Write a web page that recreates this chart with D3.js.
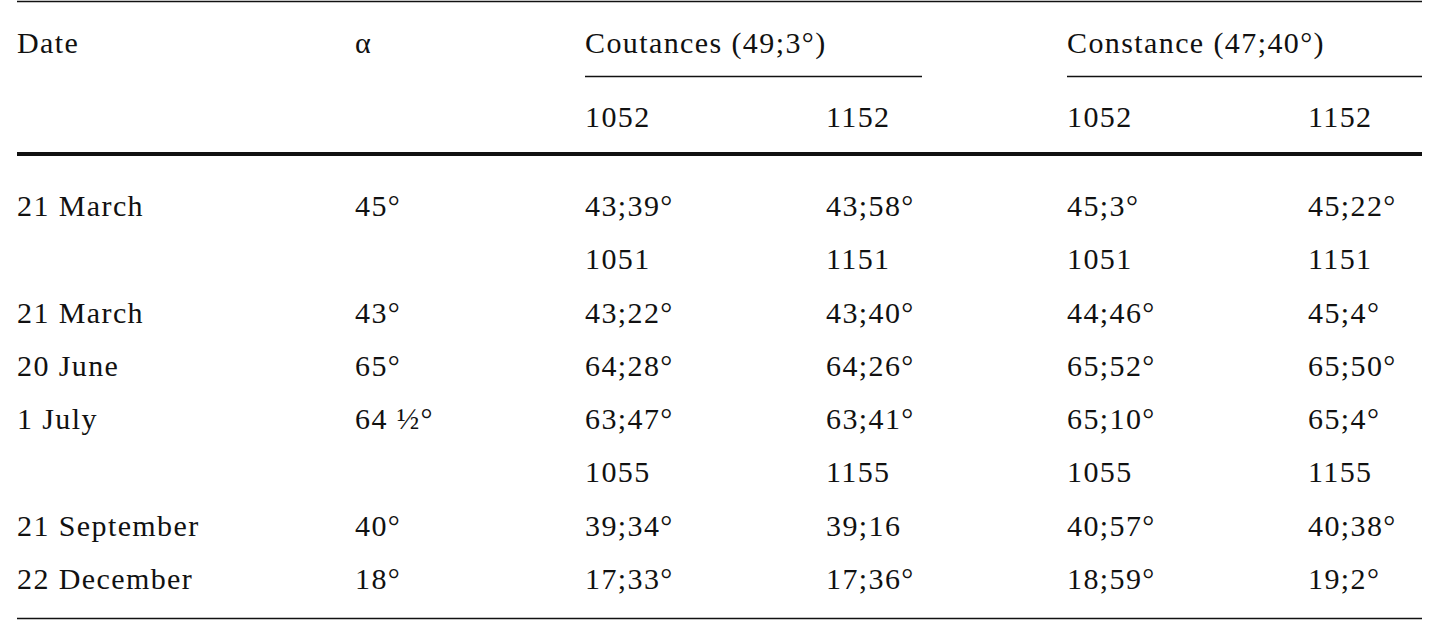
<!DOCTYPE html>
<html>
<head>
<meta charset="utf-8">
<script src="https://cdn.jsdelivr.net/npm/d3@7"></script>
<style>
  body { margin: 0; background: #fff; }
  text { font-family: "Liberation Serif", "DejaVu Serif", serif; font-size: 30px; letter-spacing: 1.4px; fill: #111; }
</style>
</head>
<body>
<svg id="chart" width="1430" height="621"></svg>
<script>
// column headings
var columns = ['date', 'alpha', 'cou1', 'cou2', 'con1', 'con2']
var headTop = ['Date', 'α', 'Coutances (49;3°)', '', 'Constance (47;40°)', '']
var headSub = ['', '', '1052', '1152', '1052', '1152']

// table body, one array per column
var dates = ['21 March', '', '21 March', '20 June', '1 July', '', '21 September', '22 December']
var alphas = ['45°', '', '43°', '65°', '64 ½°', '', '40°', '18°']
var coutancesA = ['43;39°', '1051', '43;22°', '64;28°', '63;47°', '1055', '39;34°', '17;33°']
var coutancesB = ['43;58°', '1151', '43;40°', '64;26°', '63;41°', '1155', '39;16', '17;36°']
var constanceA = ['45;3°', '1051', '44;46°', '65;52°', '65;10°', '1055', '40;57°', '18;59°']
var constanceB = ['45;22°', '1151', '45;4°', '65;50°', '65;4°', '1155', '40;38°', '19;2°']

var body = [dates, alphas, coutancesA, coutancesB, constanceA, constanceB]

var svg = d3.select('#chart')
var left = 17, right = 1422

var x = d3.scaleOrdinal().domain(columns).range([17, 355, 585, 826, 1067, 1308])
var y = d3.scaleLinear().domain([0, dates.length - 1]).range([216, 589])

// rules
var rules = [
  {x1: left, x2: right, y: 1.5, w: 1.5},
  {x1: 585, x2: 922, y: 76.5, w: 1.5},
  {x1: 1067, x2: right, y: 76.5, w: 1.5},
  {x1: left, x2: right, y: 154, w: 4},
  {x1: left, x2: right, y: 618.5, w: 1.5}
]
svg.selectAll('line.rule').data(rules).enter().append('line')
  .attr('x1', function (d) { return d.x1 })
  .attr('x2', function (d) { return d.x2 })
  .attr('y1', function (d) { return d.y })
  .attr('y2', function (d) { return d.y })
  .attr('stroke', '#111')
  .attr('stroke-width', function (d) { return d.w })

// header rows
svg.selectAll('text.h1').data(headTop).enter().append('text')
  .attr('x', function (d, i) { return x(columns[i]) })
  .attr('y', 53)
  .text(function (d) { return d })
svg.selectAll('text.h2').data(headSub).enter().append('text')
  .attr('x', function (d, i) { return x(columns[i]) })
  .attr('y', 127)
  .text(function (d) { return d })

// body
body.forEach(function (col, ci) {
  svg.append('g').selectAll('text').data(col).enter().append('text')
    .attr('x', x(columns[ci]))
    .attr('y', function (d, i) { return y(i) })
    .text(function (d) { return d })
})
</script>
</body>
</html>
